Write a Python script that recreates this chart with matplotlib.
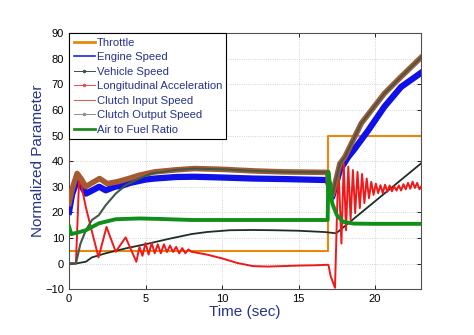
import matplotlib
matplotlib.use('Agg')
import matplotlib.pyplot as plt
from matplotlib.lines import Line2D

plt.rcParams['font.family'] = ['Liberation Sans', 'DejaVu Sans']

# --- data ---
throttle_t = [0, 16.9, 16.9, 23]
throttle_v = [5, 5, 50, 50]

engine_t = [0, 0.2, 0.53, 0.8, 1.1, 1.5, 1.97, 2.4, 3.0, 3.5, 4.0, 5.0, 5.6, 7.0, 8.2,
            10, 12, 14, 16.9, 17.2, 17.7, 18.25, 18.6, 19.55, 20.6, 21.7, 23]
engine_v = [20.2, 27, 32.6, 30.5, 27.3, 28.5, 30, 28.6, 30, 30.5, 31.5, 32.8, 33.2, 33.8, 33.9,
            33.6, 33.2, 33, 32.6, 26, 36.5, 41.7, 44.3, 52, 61.2, 69, 74.5]

vehicle_t = [0, 0.45, 1.1, 1.5, 2.4, 3.7, 5.2, 6.5, 8.0, 9.0, 10.5, 12, 13.4, 15, 16.7, 17.45, 23]
vehicle_v = [0, 0, 0.7, 2.4, 4, 5.9, 7.8, 9.6, 11.5, 12.3, 13, 13.1, 13, 12.8, 12.3, 11.8, 39.1]

accel_t = [0, 0.45, 0.67, 1.1, 1.53, 1.93, 2.45, 3.05, 3.7, 4.4, 4.6, 4.8, 5.0, 5.2, 5.4,
           5.6, 5.8, 6.0, 6.2, 6.4, 6.6, 6.8, 7.0, 7.2, 7.4, 7.6, 7.8, 8.0, 9.0, 10.0,
           11.0, 12.0, 13.0, 14.0, 15.0, 16.0, 16.95, 17.1, 17.38, 17.6, 17.8, 17.95, 18.1,
           18.25, 18.4, 18.55, 18.7, 18.85, 19.0, 19.15, 19.3, 19.45, 19.6, 19.75, 19.9,
           20.05, 20.2, 20.35, 20.5, 20.65, 20.8, 20.95, 21.1, 21.25, 21.4, 21.55, 21.7,
           21.85, 22.0, 22.15, 22.3, 22.45, 22.6, 22.75, 22.9, 23]
accel_v = [0, 0, 34.5, 22, 11.7, 2.4, 14.3, 4.6, 10.2, 0.7, 6.5, 3, 8, 3.5, 8,
           4, 7.5, 4, 7.5, 4.5, 7, 4.5, 6.5, 4, 6, 4, 5.5, 4.6, 3.5, 2,
           0.2, -1, -1.2, -1, -0.8, -0.7, -0.5, -5, -9.5, 39, 7.8, 39, 13,
           37.8, 17, 36.5, 19.7, 35.8, 21.6, 35, 23.6, 33.2, 25.5, 31.9, 26.8,
           31.2, 27.5, 30.6, 27.5, 30.8, 28, 30.5, 28.2, 30.2, 28.5, 30.5, 28.5,
           31, 29, 31.5, 29.2, 32, 29.5, 31.5, 29, 30]

clutch_in_t = [0, 0.2, 0.53, 0.8, 1.1, 1.5, 2.0, 2.5, 3.2, 3.9, 4.6, 5.6, 7.0, 8.2,
               10, 12, 14, 16.9, 17.0, 17.2, 17.7, 18.03, 19.1, 20.6, 21.7, 23]
clutch_in_v = [23.5, 29, 35.2, 33, 30, 31.5, 33.2, 31.2, 32, 33.2, 34.5, 35.8, 36.6, 37.1,
               36.8, 36.2, 35.8, 35.6, 28, 26.7, 39, 41.7, 54.8, 66.4, 73, 80.5]

clutch_out_t = [0, 0.45, 0.75, 1.1, 1.5, 1.95, 2.4, 3.05, 3.7, 4.6, 5.4, 6.3, 7.0, 8.2,
                10, 12, 14, 16.9, 17.0, 17.2, 17.7, 18.03, 19.1, 20.6, 21.7, 23]
clutch_out_v = [0, 0, 7.8, 13, 17, 18.9, 22.8, 27.3, 30.6, 33.2, 35.2, 36, 36.6, 37.1,
                36.8, 36.2, 35.8, 35.6, 28, 26.7, 39, 41.7, 54.8, 66.4, 73, 80.5]

afr_t = [0, 0.15, 0.5, 1.1, 1.95, 3.05, 4.6, 6, 8, 10, 12, 14, 16.9, 16.95, 17.2, 17.5,
         17.9, 18.6, 20, 23]
afr_v = [14.5, 11.5, 12, 13, 15.7, 17.3, 17.6, 17.4, 17, 17, 17, 17, 17, 35.8, 23.5, 18.9,
         16.3, 15.6, 15.5, 15.5]

labels = ['Throttle', 'Engine Speed', 'Vehicle Speed', 'Longitudinal Acceleration',
          'Clutch Input Speed', 'Clutch Output Speed', 'Air to Fuel Ratio']

text_col = '#25338A'

fig = plt.figure(figsize=(4.74, 3.35), dpi=100)
ax = fig.add_axes([0.1456, 0.137, 0.7426, 0.764])

ax.plot(throttle_t, throttle_v, color='#E8860F', lw=1.5, zorder=2)
ax.plot(engine_t, engine_v, color='#1010E8', lw=4.5, zorder=3)
ax.plot(vehicle_t, vehicle_v, color='#1E2E22', lw=1.3, zorder=4)
ax.plot(accel_t, accel_v, color='#F01818', lw=1.4, zorder=5)
ax.plot(clutch_in_t, clutch_in_v, color='#A65A32', lw=4.0, zorder=6)
ax.plot(clutch_out_t, clutch_out_v, color='#3F5A48', lw=1.5, zorder=7)
ax.plot(afr_t, afr_v, color='#10901A', lw=2.8, zorder=8)

handles = [
    Line2D([], [], color='#E8860F', lw=2),
    Line2D([], [], color='#1A2AE0', lw=1.2),
    Line2D([], [], color='#405040', lw=0.7, marker='.', ms=3),
    Line2D([], [], color='#F04848', lw=0.7, marker='.', ms=3),
    Line2D([], [], color='#C86A55', lw=0.8),
    Line2D([], [], color='#8A908A', lw=0.7, marker='.', ms=3),
    Line2D([], [], color='#208A20', lw=2),
]
leg = ax.legend(handles, labels, loc='upper left', fontsize=8.1, frameon=True,
                fancybox=False, framealpha=1, edgecolor='black', borderaxespad=0,
                labelspacing=0.4, handlelength=1.9, handletextpad=0.15, borderpad=0.4)
leg.get_frame().set_linewidth(0.8)
leg.set_zorder(20)
for txt in leg.get_texts():
    txt.set_color(text_col)

ax.set_xlim(0, 23)
ax.set_ylim(-10, 90)
ax.set_xticks([0, 5, 10, 15, 20])
ax.set_yticks(range(-10, 91, 10))
ax.tick_params(direction='in', top=True, right=True, labelsize=8, length=3, width=0.6)
ax.grid(True, linestyle=':', color='#c4c4c4', lw=0.6)
for s in ax.spines.values():
    s.set_color('#505050')
    s.set_linewidth(0.8)

ax.set_xlabel('Time (sec)', fontsize=11, color=text_col, labelpad=1)
ax.set_ylabel('Normalized Parameter', fontsize=11, color=text_col, labelpad=0)

fig.savefig('out.png', dpi=100)
